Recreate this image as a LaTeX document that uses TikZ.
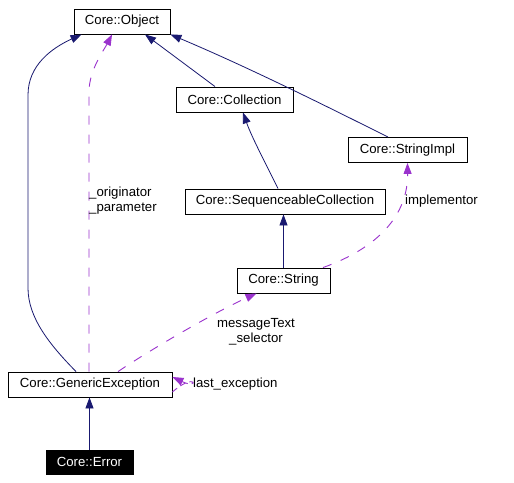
\documentclass[tikz,border=0pt]{standalone}
\usepackage{fontspec}
\setmainfont{Liberation Sans}
\usetikzlibrary{arrows.meta}
\definecolor{navy}{HTML}{191970}
\definecolor{orchid}{HTML}{9A32CD}
\begin{document}
\begin{tikzpicture}[x=1pt,y=-1pt,
  cls/.style={draw=black,line width=0.9pt,fill=white,inner sep=0pt,minimum height=25pt,font=\fontsize{13.2}{15}\selectfont},
  cur/.style={cls,fill=black,text=white},
  inh/.style={draw=navy,line width=0.8pt,-{Triangle[length=11pt,width=8pt]}},
  use/.style={draw=orchid,line width=0.9pt,dash pattern=on 9pt off 10pt,-{Triangle[length=11pt,width=8pt]}},
  lbl/.style={font=\fontsize{13.2}{15.5}\selectfont,inner sep=0pt,align=left}]
\useasboundingbox[fill=white] (0,0) rectangle (514,482);
\node[cls,minimum width=96pt] (obj) at (122,21.5) {Core::Object};
\node[cls,minimum width=117pt] (col) at (234.5,99.5) {Core::Collection};
\node[cls,minimum width=119pt] (si) at (407.5,150) {Core::StringImpl};
\node[cls,minimum width=200pt] (seq) at (285,201.5) {Core::SequenceableCollection};
\node[cls,minimum width=93pt] (str) at (283.5,280.5) {Core::String};
\node[cls,minimum width=164pt] (ge) at (90,384.5) {Core::GenericException};
\node[cur,minimum width=87pt,minimum height=24pt] (err) at (89.5,462) {Core::Error};
% inheritance
\draw[inh] ([xshift=-14pt]ge.north) .. controls (50,345) and (28,318) .. (28,288) -- (28,95) .. controls (28,65) and (52,48) .. ([xshift=8pt]obj.south west);
\draw[inh] ([xshift=-19.5pt]col.north) -- ([xshift=23pt]obj.south);
\draw[inh] ([xshift=-19.5pt]si.north) .. controls (330,108) and (250,68) .. (obj.south east);
\draw[inh] ([xshift=-7pt]seq.north) .. controls (268,168) and (252,138) .. ([xshift=8.5pt]col.south);
\draw[inh] (str.north) -- (str.north |- seq.south);
\draw[inh] (err.north) -- (err.north |- ge.south);
% usage
\draw[use] ([xshift=-1pt]ge.north) -- (89,92) .. controls (89,70) and (104,50) .. ([xshift=-10pt]obj.south);
\draw[use] ([xshift=39.5pt]str.north) .. controls (378,248) and (408,215) .. (si.south);
\draw[use] ([xshift=28pt]ge.north) .. controls (150,350) and (215,312) .. ([xshift=-27pt]str.south);
\draw[use,dash pattern=on 6pt off 4pt] ([yshift=-7.5pt]ge.east) .. controls (196,371) and (200,390) .. ([yshift=7.5pt]ge.east);
% labels
\node[lbl,anchor=west] (l1) at (89,200.5) {\_originator\\\_parameter};
\node[lbl,anchor=west] (l2) at (405,201) {implementor};
\node[lbl,align=center] (l3) at (256,332) {messageText\\\_selector};
\node[lbl,anchor=west] (l4) at (193,384) {last\_exception};
\end{tikzpicture}
\end{document}
